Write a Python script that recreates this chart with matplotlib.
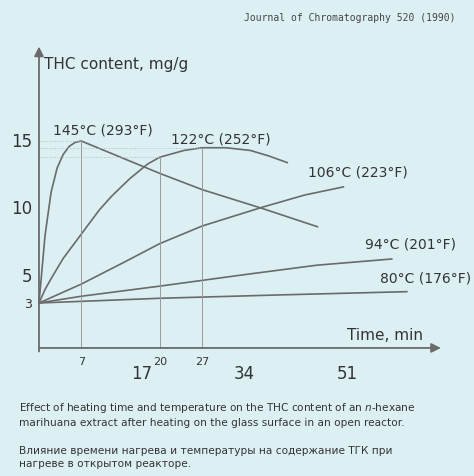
import matplotlib.pyplot as plt
import numpy as np

# curves: (time, THC mg/g)
t145 = [0, 0.5, 1, 2, 3, 4, 5, 6, 7, 20, 27, 37, 46.1]
c145 = [3, 5.5, 8, 11.2, 13.0, 14.0, 14.6, 14.9, 15, 12.6, 11.4, 10.0, 8.65]
t122 = [0, 1, 2, 4, 7, 10, 12, 15, 18, 20, 24, 27, 31, 35, 38, 41.1]
c122 = [3, 4.0, 4.8, 6.3, 8.1, 9.9, 10.9, 12.2, 13.3, 13.8, 14.3, 14.5, 14.5, 14.3, 13.9, 13.4]
t106 = [0, 7, 14, 20, 27, 37, 44, 50.4]
c106 = [3, 4.4, 6.0, 7.4, 8.7, 10.1, 11.0, 11.6]
t94 = [0, 7, 20, 34, 46, 58.4]
c94 = [3, 3.5, 4.25, 5.1, 5.8, 6.26]
t80 = [0, 20, 40, 60.9]
c80 = [3, 3.35, 3.6, 3.84]
curves = [(t145, c145), (t122, c122), (t106, c106), (t94, c94), (t80, c80)]
labels = ["145°C (293°F)", "122°C (252°F)", "106°C (223°F)", "94°C (201°F)", "80°C (176°F)"]
label_pos = [(2.3, 15.3), (21.9, 14.7), (44.5, 12.2), (53.9, 6.9), (56.4, 4.4)]
guide_t = [7, 20, 27]
guide_c = [15, 13.8, 14.5]
small_ticks = [7, 20, 27]
big_ticks = [17, 34, 51]
y_ticks = [5, 10, 15]

bg = "#dcf0f4"
lc = "#6a6a6a"
fig = plt.figure(figsize=(4.74, 4.77), dpi=100, facecolor=bg)
ax = fig.add_axes([0, 0, 1, 1])
ax.set_facecolor(bg)
ax.set_xlim(-39 / 6.04, (474 - 39) / 6.04)
ax.set_ylim(-(477 - 344.5) / 13.5, 344.5 / 13.5)
ax.axis("off")

for t, c in curves:
    ax.plot(t, c, color=lc, lw=1.2)
for t, c in zip(guide_t, guide_c):
    ax.plot([t, t], [-0.3, c], color="#999999", lw=0.7)
    ax.plot([0, t], [c, c], color="#bbbbbb", lw=0.7, ls=":")
for lab, (x, y) in zip(labels, label_pos):
    ax.text(x, y, lab, fontsize=10, color="#333333", ha="left", va="bottom")

ax.annotate("", xy=(67, -0.33), xytext=(-0.4, -0.33),
            arrowprops=dict(arrowstyle="-|>", color=lc, lw=1.3, mutation_scale=14))
ax.annotate("", xy=(0, 22.2), xytext=(0, -0.8),
            arrowprops=dict(arrowstyle="-|>", color=lc, lw=1.3, mutation_scale=14))
for t in small_ticks:
    ax.text(t, -0.9, str(t), fontsize=8, ha="center", va="top", color="#333333")
for t in big_ticks:
    ax.text(t, -1.5, str(t), fontsize=12, ha="center", va="top", color="#333333")
for y in y_ticks:
    ax.text(-1.2, y, str(y), fontsize=12, ha="right", va="center", color="#333333")
ax.text(-1.2, 3, "3", fontsize=9, ha="right", va="center", color="#333333")
ax.text(0.8, 20.4, "THC content, mg/g", fontsize=11, color="#333333")
ax.text(51, 0.3, "Time, min", fontsize=11, color="#333333")

fig.text(0.96, 0.955, "Journal of Chromatography 520 (1990)", fontsize=7,
         family="DejaVu Sans Mono", ha="right", color="#444444")
fig.text(0.04, 0.16, "Effect of heating time and temperature on the THC content of an $n$-hexane\n"
         "marihuana extract after heating on the glass surface in an open reactor.",
         fontsize=7.6, color="#333333", linespacing=1.4, va="top")
fig.text(0.04, 0.065, "Влияние времени нагрева и температуры на содержание ТГК при\n"
         "нагреве в открытом реакторе.", fontsize=7.6, color="#333333", linespacing=1.4, va="top")
fig.savefig("out.png", dpi=100, facecolor=bg)
